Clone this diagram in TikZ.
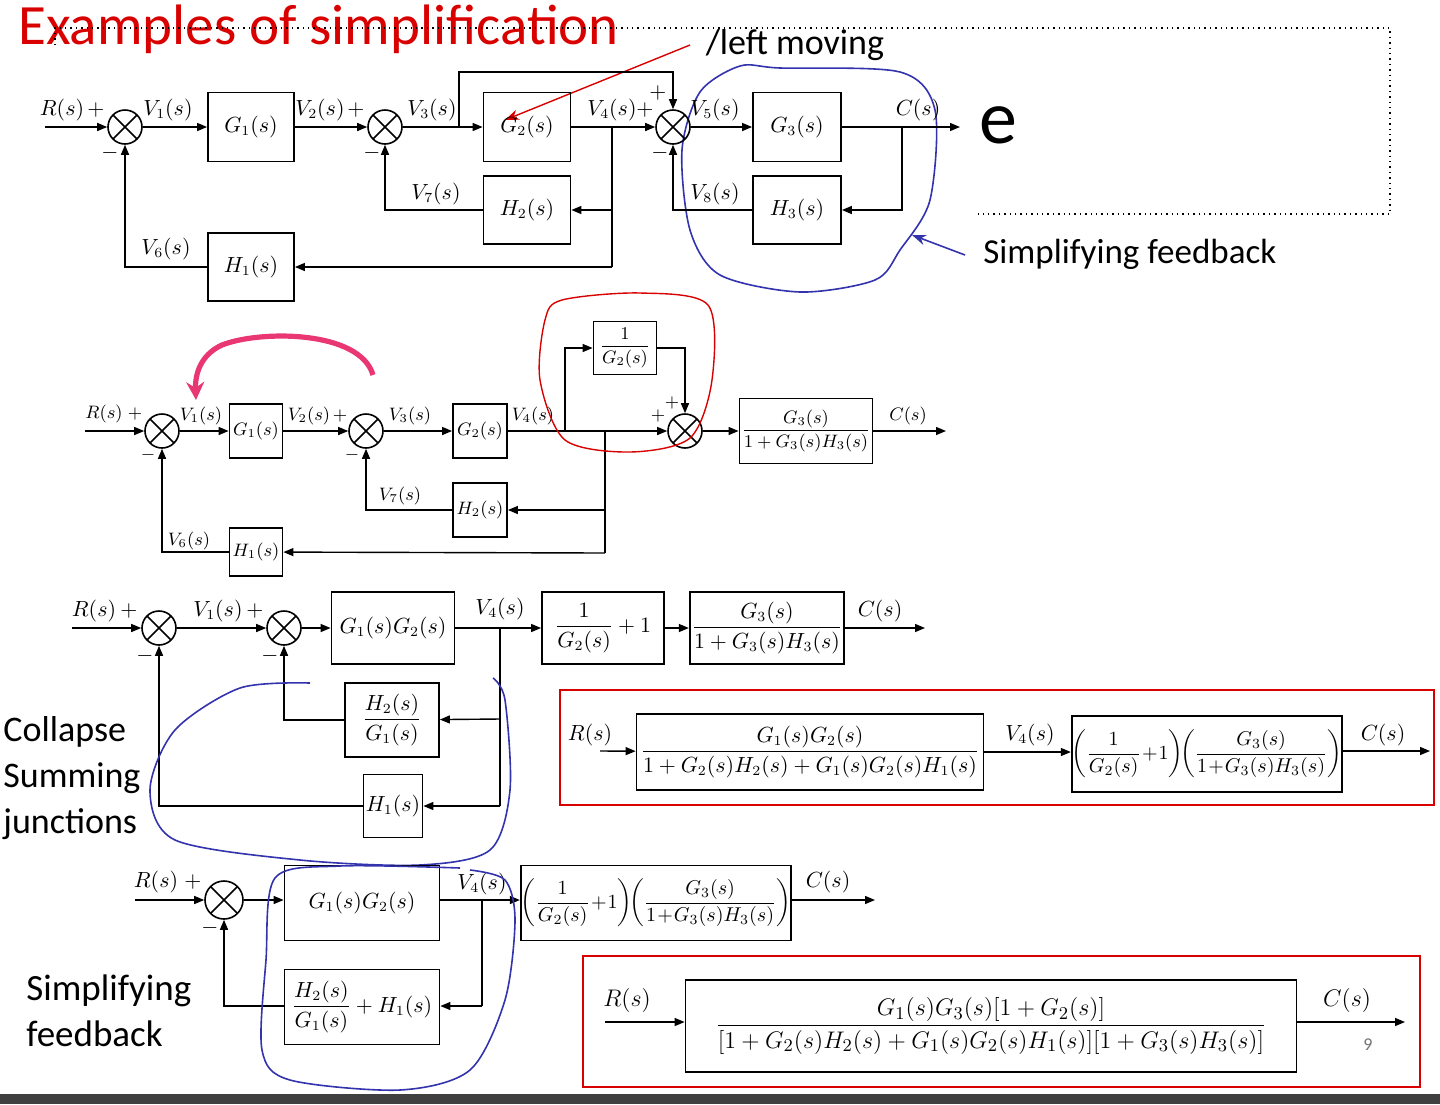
\documentclass[tikz,border=0pt]{standalone}
\usepackage{amsmath}
\usepackage{fontspec}
\newfontfamily\anno{Carlito}
\usetikzlibrary{arrows.meta}
\newcommand{\prodtf}{\medmuskip=1mu\displaystyle\left(\frac{1}{G_2(s)}+1\right)\!\!\left(\frac{G_3(s)}{1+G_3(s)H_3(s)}\right)}
\begin{document}
\begin{tikzpicture}[x=0.5pt,y=-0.5pt,
  sum/.style={circle,draw,line width=0.8pt,minimum size=#1*0.5pt,inner sep=0pt,
    path picture={\draw[line width=0.8pt] (path picture bounding box.north west)--(path picture bounding box.south east)
      (path picture bounding box.north east)--(path picture bounding box.south west);}},
  sum/.default=34,
  blk/.style 2 args={draw,line width=0.9pt,minimum width=#1*0.5pt,minimum height=#2*0.5pt,inner sep=1pt},
  ln/.style={line width=0.7pt},
  ar/.style={ln,-{Triangle[length=5pt,width=4pt]}},
  lbl/.style={inner sep=0pt},
  hand/.style={line width=0.8pt,color=blue!60!black!80!white},
  redbox/.style={draw=red!85!black,line width=0.9pt},
  every node/.style={font=\fontsize{10}{12}\selectfont}]
\useasboundingbox (0,0) rectangle (1440,1104);
\fill[black!75] (0,1094) rectangle (1440,1104);

% ---------- annotations
\node[lbl,anchor=west,text=red!85!black,font=\anno\fontsize{28.5}{30}\selectfont] (title) at (18,29) {Examples of simplification};
\draw[dotted,line width=0.7pt] (55,45) -- (55,28) -- (1390,28) -- (1390,214) -- (978,214);
\node[lbl,font=\anno\fontsize{18}{20}\selectfont] (lm) at (795,45) {/left moving};
\coordinate (lmt) at (690,45);
\coordinate (lmh) at (505,120);
\draw[red!85!black,line width=0.7pt,-{Stealth[length=7pt]}] (lmt) -- (lmh);
\node[lbl,font=\anno\fontsize{38}{40}\selectfont] (ee) at (998,125) {e};
\node[lbl,anchor=west,font=\anno\fontsize{17.5}{20}\selectfont] (sf1) at (983,254) {Simplifying feedback};
\coordinate (sft) at (965,255);
\coordinate (sfh) at (912,235);
\draw[hand,-{Stealth[length=7pt]}] (sft) -- (sfh);
\draw[hand] plot[smooth cycle] coordinates {(780,68) (900,72) (935,110) (930,200) (900,250) (875,280) (800,292) (720,275) (690,230) (682,150) (700,92) (740,66)};

% ---------- diagram 1
\begin{scope}[every node/.style={font=\fontsize{10.5}{12}\selectfont}]
\node[sum] (a1) at (125,127) {};
\node[sum] (a2) at (385,127) {};
\node[sum] (a3) at (673,127) {};
\node[blk={86}{69}] (ag1) at (251,127) {$G_1(s)$};
\node[blk={87}{69}] (ag2) at (527,127) {$G_2(s)$};
\node[blk={88}{69}] (ag3) at (797,127) {$G_3(s)$};
\node[blk={88}{68}] (ah3) at (797,210) {$H_3(s)$};
\node[blk={87}{68}] (ah2) at (527,210) {$H_2(s)$};
\node[blk={86}{68}] (ah1) at (251,267) {$H_1(s)$};
\coordinate (ar0) at (45,127);
\coordinate (ac) at (960,127);
\coordinate (af) at (459,127);
\coordinate (afu) at (673,72);
\coordinate (ab3) at (902,127);
\coordinate (ab2) at (612,127);
\coordinate (abh) at (612,210);
\coordinate (ab1) at (612,267);
\draw[ar] (ar0) -- (a1);
\draw[ar] (a1) -- (ag1);
\draw[ar] (ag1) -- (a2);
\draw[ar] (a2) -- (ag2);
\draw[ar] (ag2) -- (a3);
\draw[ar] (a3) -- (ag3);
\draw[ar] (ag3) -- (ac);
\draw[ar] (af) |- (afu) -- (a3);
\draw[ar] (ab3) |- (ah3);
\draw[ar] (ah3) -| (a3);
\draw[ln] (ab2) -- (ab1);
\draw[ar] (abh) -- (ah2);
\draw[ar] (ah2) -| (a2);
\draw[ar] (ab1) -- (ah1);
\draw[ar] (ah1) -| (a1);
\node[lbl] (l1) at (62,110) {$R(s)$};
\node[lbl] (l2) at (96,110) {$+$};
\node[lbl] (l3) at (110,153) {$-$};
\node[lbl] (l4) at (168,110) {$V_1(s)$};
\node[lbl] (l5) at (320,110) {$V_2(s)$};
\node[lbl] (l6) at (356,110) {$+$};
\node[lbl] (l7) at (372,153) {$-$};
\node[lbl] (l8) at (432,110) {$V_3(s)$};
\node[lbl] (l9) at (612,110) {$V_4(s)$};
\node[lbl] (l10) at (645,110) {$+$};
\node[lbl] (l11) at (658,93) {$+$};
\node[lbl] (l12) at (660,153) {$-$};
\node[lbl] (l13) at (715,110) {$V_5(s)$};
\node[lbl] (l14) at (918,110) {$C(s)$};
\node[lbl] (l15) at (715,194) {$V_8(s)$};
\node[lbl] (l16) at (436,194) {$V_7(s)$};
\node[lbl] (l17) at (166,249) {$V_6(s)$};
\end{scope}

% ---------- diagram 2
\begin{scope}[every node/.style={font=\fontsize{9}{11}\selectfont}]
\node[sum] (b1) at (162,431) {};
\node[sum] (b2) at (366,431) {};
\node[sum] (b3) at (685,431) {};
\node[blk={53}{54}] (bg1) at (256,431) {$G_1(s)$};
\node[blk={54}{54}] (bg2) at (480,431) {$G_2(s)$};
\node[blk={63}{53}] (bi) at (625,348) {$\dfrac{1}{G_2(s)}$};
\node[blk={132}{65}] (bg3) at (806,431) {$\dfrac{G_3(s)}{1+G_3(s)H_3(s)}$};
\node[blk={54}{54}] (bh2) at (480,510) {$H_2(s)$};
\node[blk={53}{48}] (bh1) at (256,552) {$H_1(s)$};
\coordinate (br0) at (85,431);
\coordinate (bc) at (946,431);
\coordinate (bb) at (565,431);
\coordinate (bf) at (605,431);
\coordinate (bfh) at (605,510);
\coordinate (bf1) at (605,553);
\draw[ar] (br0) -- (b1);
\draw[ar] (b1) -- (bg1);
\draw[ar] (bg1) -- (b2);
\draw[ar] (b2) -- (bg2);
\draw[ar] (bg2) -- (b3);
\draw[ar] (b3) -- (bg3);
\draw[ar] (bg3) -- (bc);
\draw[ar] (bb) |- (bi);
\draw[ar] (bi) -| (b3);
\draw[ln] (bf) -- (bf1);
\draw[ar] (bfh) -- (bh2);
\draw[ar] (bh2) -| (b2);
\draw[ar] (bf1) -- (bh1);
\draw[ar] (bh1) -| (b1);
\node[lbl] (m1) at (104,414) {$R(s)$};
\node[lbl] (m2) at (135,414) {$+$};
\node[lbl] (m3) at (148,455) {$-$};
\node[lbl] (m4) at (201,416) {$V_1(s)$};
\node[lbl] (m5) at (309,416) {$V_2(s)$};
\node[lbl] (m6) at (340,416) {$+$};
\node[lbl] (m7) at (352,455) {$-$};
\node[lbl] (m8) at (410,416) {$V_3(s)$};
\node[lbl] (m9) at (533,416) {$V_4(s)$};
\node[lbl] (m10) at (658,416) {$+$};
\node[lbl] (m11) at (672,403) {$+$};
\node[lbl] (m12) at (908,416) {$C(s)$};
\node[lbl] (m13) at (400,496) {$V_7(s)$};
\node[lbl] (m14) at (189,541) {$V_6(s)$};
\end{scope}
\draw[line width=2.6pt,color={rgb,255:red,232;green,55;blue,115},-{Stealth[length=9pt,width=9pt]}]
  (373,375) .. controls (360,330) and (260,330) .. (222,345) .. controls (200,355) and (195,375) .. (196,400);
\draw[red!85!black,line width=0.7pt] plot[smooth cycle] coordinates {(562,300) (640,293) (708,305) (712,380) (690,438) (630,452) (565,440) (540,380) (545,320)};

% ---------- diagram 3
\begin{scope}[every node/.style={font=\fontsize{10.5}{12}\selectfont}]
\node[sum] (c1) at (159,628) {};
\node[sum] (c2) at (284,628) {};
\node[blk={123}{72}] (cg) at (393,628) {$G_1(s)G_2(s)$};
\node[blk={122}{72}] (ci) at (603,628) {$\dfrac{1}{G_2(s)}+1$};
\node[blk={146}{72}] (cg3) at (767,628) {$\dfrac{G_3(s)}{1+G_3(s)H_3(s)}$};
\node[blk={94}{74}] (ch2) at (392,720) {$\dfrac{H_2(s)}{G_1(s)}$};
\node[blk={59}{63}] (ch1) at (393,806) {$H_1(s)$};
\coordinate (cr0) at (72,628);
\coordinate (cc) at (925,628);
\coordinate (cb) at (500,628);
\coordinate (cbh) at (500,719);
\coordinate (cb1) at (500,806);
\draw[ar] (cr0) -- (c1);
\draw[ar] (c1) -- (c2);
\draw[ar] (c2) -- (cg);
\draw[ar] (cg) -- (ci);
\draw[ar] (ci) -- (cg3);
\draw[ar] (cg3) -- (cc);
\draw[ln] (cb) -- (cb1);
\draw[ar] (cbh) -- (ch2);
\draw[ar] (ch2) -| (c2);
\draw[ar] (cb1) -- (ch1);
\draw[ar] (ch1) -| (c1);
\node[lbl] (n1) at (94,611) {$R(s)$};
\node[lbl] (n2) at (129,611) {$+$};
\node[lbl] (n3) at (145,656) {$-$};
\node[lbl] (n4) at (218,611) {$V_1(s)$};
\node[lbl] (n5) at (255,611) {$+$};
\node[lbl] (n6) at (270,656) {$-$};
\node[lbl] (n7) at (500,609) {$V_4(s)$};
\node[lbl] (n8) at (880,611) {$C(s)$};
% reduced
\draw[redbox] (560,690) rectangle (1434,805);
\node[blk={347}{76}] (dg) at (810,752) {$\dfrac{G_1(s)G_2(s)}{1+G_2(s)H_2(s)+G_1(s)G_2(s)H_1(s)}$};
\node[blk={268}{76},inner sep=0pt,font=\fontsize{10}{12}\selectfont] (dg3) at (1207,754) {$\prodtf$};
\coordinate (dr0) at (600,751);
\coordinate (dc) at (1430,751);
\draw[ar] (dr0) -- (dg);
\draw[ar] (dg) -- (dg.east -| dg3.west);
\draw[ar] (dg3.east |- dc) -- (dc);
\node[lbl] (n9) at (590,735) {$R(s)$};
\node[lbl] (n10) at (1030,735) {$V_4(s)$};
\node[lbl] (n11) at (1383,735) {$C(s)$};
\end{scope}
\node[lbl,anchor=west,align=left,font=\anno\fontsize{18}{23}\selectfont] (cs) at (3,778) {Collapse\\Summing\\junctions};
\draw[hand] plot[smooth] coordinates {(310,683) (240,688) (175,730) (150,790) (175,840) (300,860) (420,865) (490,850) (510,790) (505,700) (493,678)};

% ---------- diagram 4
\begin{scope}[every node/.style={font=\fontsize{10.5}{12}\selectfont}]
\node[sum={38}] (e1) at (224,900) {};
\node[blk={155}{75}] (eg) at (362,903) {$G_1(s)G_2(s)$};
\node[blk={265}{75},inner sep=0pt,font=\fontsize{10}{12}\selectfont] (eg3) at (656,903) {$\prodtf$};
\node[blk={155}{75}] (eh) at (362,1007) {$\dfrac{H_2(s)}{G_1(s)}+H_1(s)$};
\coordinate (er0) at (135,900);
\coordinate (ec) at (875,900);
\coordinate (eb) at (482,900);
\coordinate (eb1) at (482,1006);
\draw[ar] (er0) -- (e1);
\draw[ar] (e1) -- (eg.west |- e1);
\draw[ar] (eg.east |- e1) -- (eg3.west |- e1);
\draw[ar] (eg3.east |- ec) -- (ec);
\draw[ln] (eb) -- (eb1);
\draw[ar] (eb1) -- (eh.east |- eb1);
\draw[ar] (eh.west |- eb1) -| (e1);
\node[lbl] (o1) at (156,882) {$R(s)$};
\node[lbl] (o2) at (193,882) {$+$};
\node[lbl] (o3) at (210,928) {$-$};
\node[lbl] (o4) at (482,884) {$V_4(s)$};
\node[lbl] (o5) at (828,882) {$C(s)$};
\end{scope}
\node[lbl,anchor=west,align=left,font=\anno\fontsize{18.5}{23}\selectfont] (sfb) at (26,1011) {Simplifying\\feedback};
\draw[hand] plot[smooth] coordinates {(460,868) (340,866) (275,878) (266,960) (262,1050) (290,1080) (400,1090) (470,1070) (505,1000) (515,920) (505,880) (470,870)};
\begin{scope}[every node/.style={font=\fontsize{12.5}{14}\selectfont}]
\draw[redbox] (583,956) rectangle (1420,1087);
\node[blk={611}{92}] (fg) at (991,1026) {$\dfrac{G_1(s)G_3(s)[1+G_2(s)]}{[1+G_2(s)H_2(s)+G_1(s)G_2(s)H_1(s)][1+G_3(s)H_3(s)]}$};
\coordinate (fr0) at (605,1022);
\coordinate (fc) at (1405,1022);
\draw[ar] (fr0) -- (fr0 -| fg.west);
\draw[ar] (fg.east |- fc) -- (fc);
\node[lbl] (p1) at (627,1000) {$R(s)$};
\node[lbl] (p2) at (1347,1000) {$C(s)$};
\end{scope}
\node[lbl,text=black!55,font=\anno\fontsize{9}{10}\selectfont] (pg) at (1368,1045) {9};
\end{tikzpicture}
\end{document}
